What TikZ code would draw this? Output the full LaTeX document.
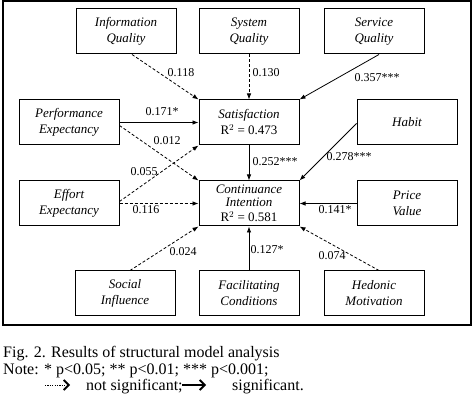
\documentclass[tikz,border=0pt]{standalone}
\usepackage{fontspec}
\setmainfont{Liberation Serif}
\usetikzlibrary{arrows.meta,positioning,calc}

\begin{document}
\begin{tikzpicture}[
  x=1pt,y=-1pt,
  box/.style={draw,line width=1pt,align=center,inner sep=0pt,
              minimum width=100pt,minimum height=45pt,
              font=\fontsize{13}{16}\selectfont\itshape},
  lbl/.style={font=\fontsize{12}{14}\selectfont,inner sep=0pt},
  captxt/.style={font=\fontsize{16}{16}\selectfont,inner sep=0pt,anchor=base west},
  sig/.style={line width=.8pt,-{Latex[length=6pt,width=4.5pt]}},
  ns/.style={sig,dash pattern=on 3pt off 2pt},
  legsig/.style={line width=1.6pt,-{Straight Barb[length=5pt,width=10pt,line width=1.8pt]}},
  legns/.style={legsig,line width=.9pt,dash pattern=on 1.2pt off 1.2pt}
]
\useasboundingbox (0,0) rectangle (474,403);
\draw[line width=1.5pt] (3,1) rectangle (471,325);

% constructs
\node[box] (sat) at (249,122.5) {Satisfaction\\\upshape R$^2$ = 0.473};
\node[box,above=45pt of sat] (sys) {System\\Quality};
\node[box,left=22pt of sys] (info) {Information\\Quality};
\node[box,right=24pt of sys] (serv) {Service\\Quality};
\node[box,left=79pt of sat] (pe) {Performance\\Expectancy};
\node[box,right=57pt of sat] (habit) {Habit};
\node[box,below=35pt of sat,font=\fontsize{13}{13}\selectfont\itshape] (ci)
  {Continuance\\Intention\\[2pt]\upshape R$^2$ = 0.581};
\node[box,left=79pt of ci] (ee) {Effort\\Expectancy};
\node[box,right=57pt of ci] (price) {Price\\Value};
\node[box,below=44pt of ci] (fac) {Facilitating\\Conditions};
\node[box,left=23pt of fac] (soc) {Social\\Influence};
\node[box,right=24pt of fac] (hed) {Hedonic\\Motivation};

% paths
\draw[ns] ([xshift=6pt]info.south) -- (sat.north west);
\draw[ns] (sys) -- (sat);
\draw[sig] ([xshift=5pt]serv.south) -- (sat.north east);
\draw[sig] (pe.east) -- (pe.east -| sat.west);
\draw[ns] ([yshift=-3pt]pe.east) -- (ci.north west);
\draw[ns] ([yshift=2pt]ee.east) -- (sat.south west);
\draw[ns] (ee.east) -- (ee.east -| ci.west);
\draw[sig] (sat) -- (ci);
\draw[sig] ([yshift=-1pt]habit.west) -- (ci.north east);
\draw[sig] (price.west) -- (price.west -| ci.east);
\draw[ns] ([xshift=5pt]soc.north) -- (ci.south west);
\draw[sig] (fac) -- (ci);
\draw[ns] ([xshift=5pt]hed.north) -- (ci.south east);

% coefficients
\node[lbl] (c118) at (181,73) {0.118};
\node[lbl] (c130) at (266,73) {0.130};
\node[lbl] (c357) at (377,78) {0.357***};
\node[lbl] (c171) at (162,112) {0.171*};
\node[lbl] (c012) at (167,141) {0.012};
\node[lbl] (c055) at (144,172) {0.055};
\node[lbl] (c116) at (146,210) {0.116};
\node[lbl] (c252) at (275,162) {0.252***};
\node[lbl] (c278) at (349,157) {0.278***};
\node[lbl] (c141) at (335,210) {0.141*};
\node[lbl] (c024) at (183,252) {0.024};
\node[lbl] (c127) at (267,250) {0.127*};
\node[lbl] (c074) at (332,256) {0.074};

% caption
\node[captxt] (fig) at (3,358) {Fig. 2. Results of structural model analysis};
\node[captxt] (note) at (3,374) {Note: * p<0.05; ** p<0.01; *** p<0.001;};
\node[captxt] (nsig) at (86,390) {not significant;};
\node[captxt] (ysig) at (232,390) {significant.};
\coordinate (nsa) at (45,385);
\coordinate (nsb) at (70,385);
\coordinate (sga) at (182,385);
\coordinate (sgb) at (206,385);
\draw[legns] (nsa) -- (nsb);
\draw[legsig] (sga) -- (sgb);
\end{tikzpicture}
\end{document}
